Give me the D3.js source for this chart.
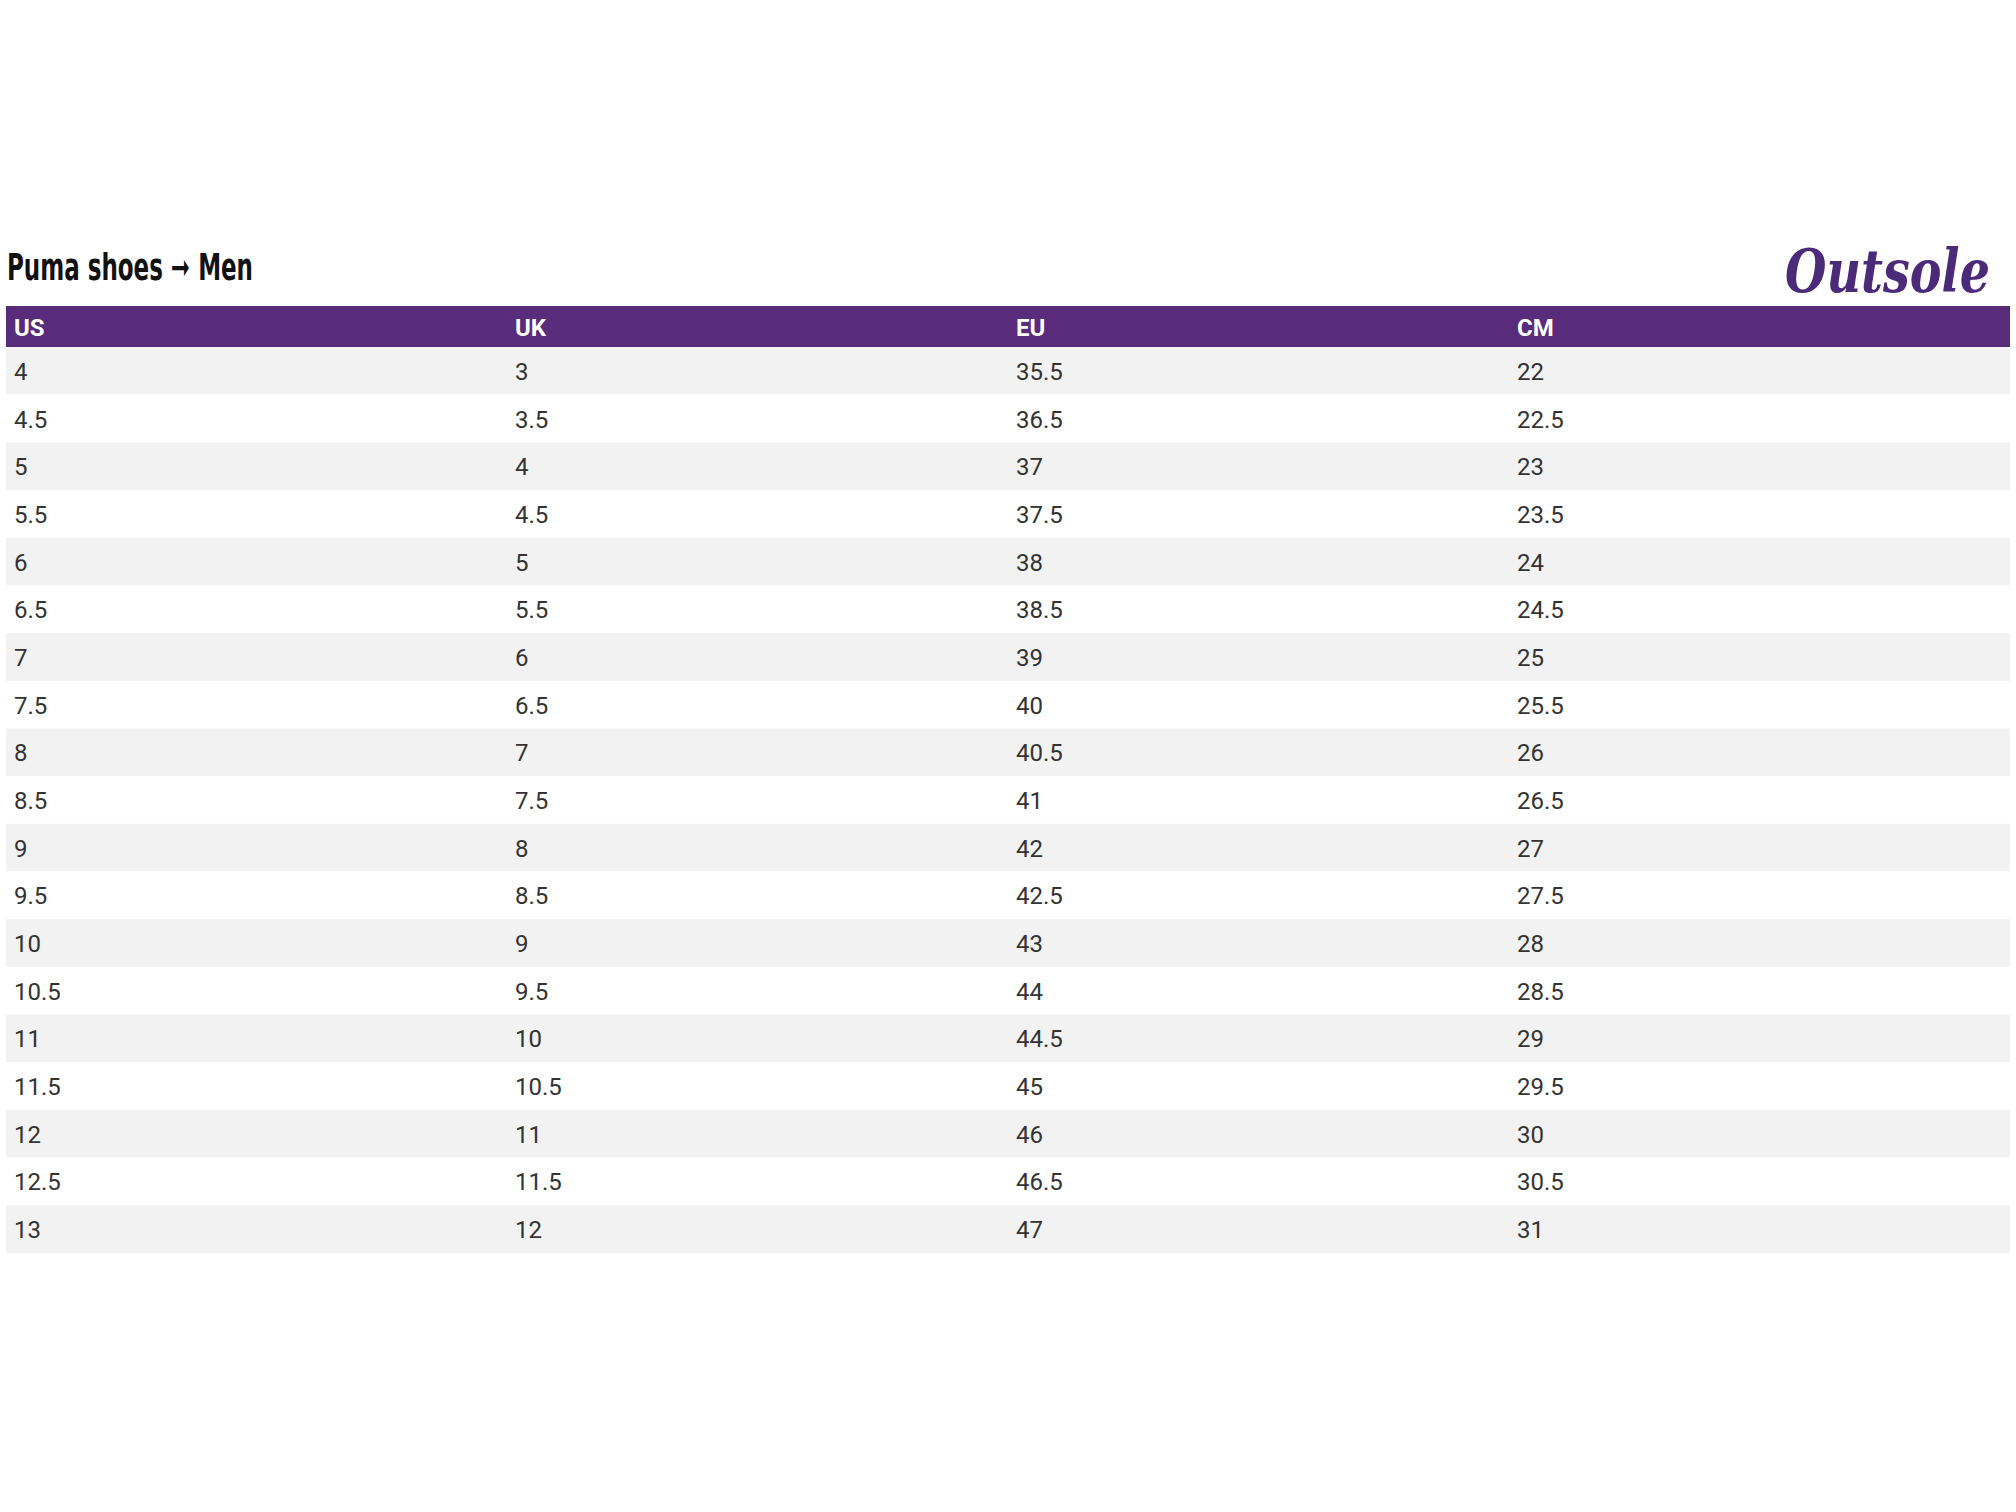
<!DOCTYPE html><html><head><meta charset="utf-8"><script src="https://cdn.jsdelivr.net/npm/d3@7"></script>
<style>body{margin:0;background:#fff}</style></head><body><svg id="c" width="2016" height="1512"></svg><script>
const columns=["US","UK","EU","CM"];
const us=["4","4.5","5","5.5","6","6.5","7","7.5","8","8.5","9","9.5","10","10.5","11","11.5","12","12.5","13"];
const uk=["3","3.5","4","4.5","5","5.5","6","6.5","7","7.5","8","8.5","9","9.5","10","10.5","11","11.5","12"];
const eu=["35.5","36.5","37","37.5","38","38.5","39","40","40.5","41","42","42.5","43","44","44.5","45","46","46.5","47"];
const cm=["22","22.5","23","23.5","24","24.5","25","25.5","26","26.5","27","27.5","28","28.5","29","29.5","30","30.5","31"];
const title="Puma shoes ➞ Men";
const rows=us.map((d,i)=>[d,uk[i],eu[i],cm[i]]);
const svg=d3.select("#c");
const x=d3.scaleBand().domain(columns).range([6,2010]);
const y=d3.scaleBand().domain(d3.range(rows.length)).range([347,1253]);
svg.append("text").attr("x",7).attr("y",280).attr("font-family","'Liberation Sans Narrow','DejaVu Sans Condensed',sans-serif").attr("font-weight","bold").attr("font-size",38).attr("textLength",246).attr("lengthAdjust","spacingAndGlyphs").attr("fill","#111").text(title);
svg.append("text").attr("x",1785).attr("y",292).attr("font-family","'DejaVu Serif',serif").attr("font-style","italic").attr("font-weight","bold").attr("font-size",60).attr("textLength",205).attr("lengthAdjust","spacingAndGlyphs").attr("fill","#4b2a7a").text("Outsole");
svg.append("rect").attr("x",6).attr("y",306).attr("width",2004).attr("height",41).attr("fill","#582c7a");
svg.selectAll(".h").data(columns).join("text").attr("x",d=>x(d)+8).attr("y",336).attr("font-family","Roboto,sans-serif").attr("font-weight","bold").attr("font-size",24).attr("fill","#fff").text(d=>d);
const g=svg.selectAll(".r").data(rows).join("g").attr("transform",(d,i)=>`translate(0,${y(i)})`);
g.append("rect").attr("x",6).attr("width",2004).attr("height",y.bandwidth()).attr("fill",(d,i)=>i%2?"#fff":"#f2f2f2");
g.selectAll("text").data(d=>d).join("text").attr("x",(d,j)=>x(columns[j])+8).attr("y",y.bandwidth()/2+9).attr("font-family","Roboto,sans-serif").attr("font-size",24).attr("fill","#333").text(d=>d);
</script></body></html>
